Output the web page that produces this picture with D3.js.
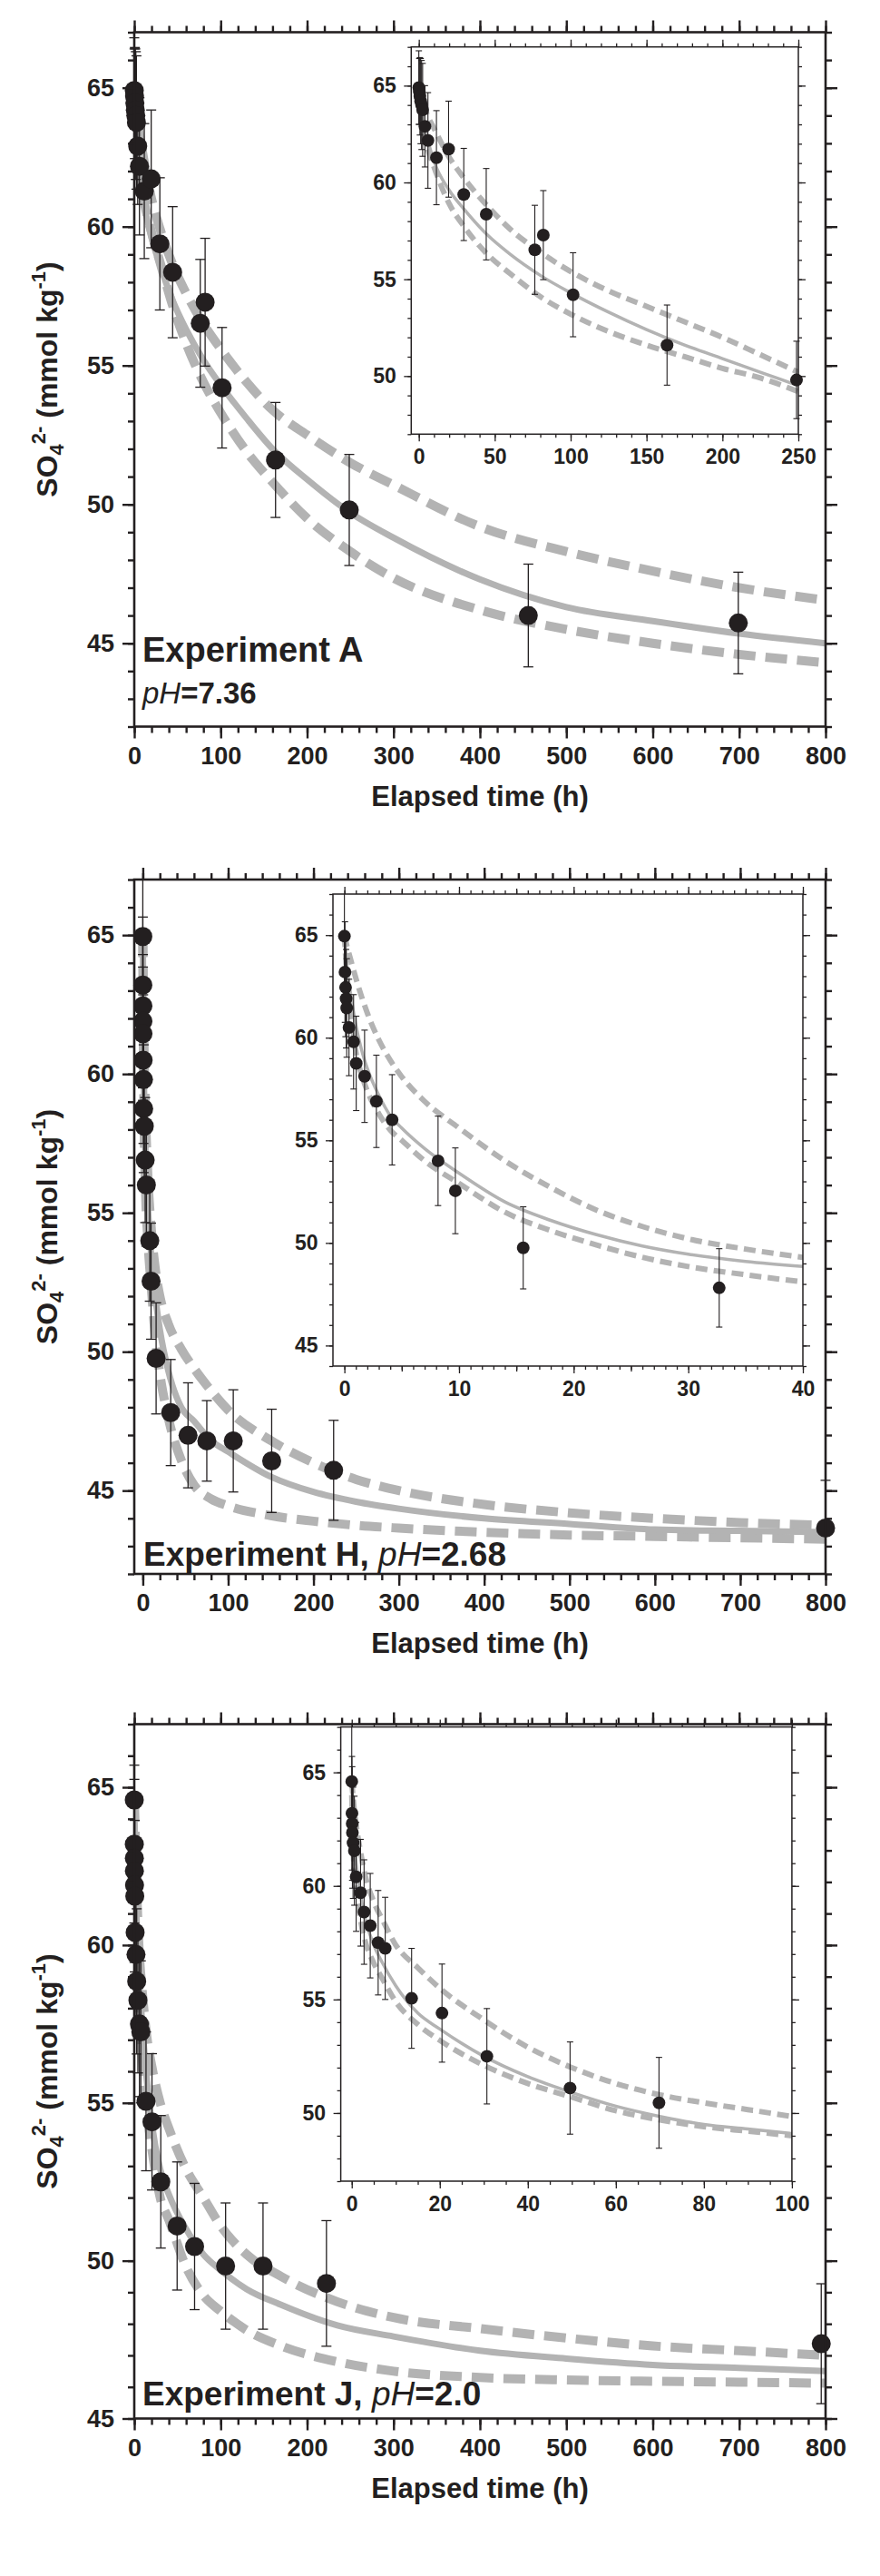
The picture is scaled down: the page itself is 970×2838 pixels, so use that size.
<!DOCTYPE html>
<html><head><meta charset="utf-8">
<script src="https://cdn.jsdelivr.net/npm/d3@7"></script>
<style>
body{margin:0;background:#fff;}
svg{display:block;}
text{font-family:"Liberation Sans",Arial,Helvetica,sans-serif;fill:#231f20;}
</style></head><body>
<svg id="c" width="970" height="2838"></svg>
<script>
// ---------------- DATA ----------------
// Experiment A (pH 7.36)
const A_time = [0, 0.3, 0.7, 1.2, 1.8, 2.5, 4, 6, 11.6, 19.6, 29.6, 44.4, 76.4, 82, 101.6, 163.5, 248.8, 456, 699];
const A_so4  = [64.9, 64.7, 64.45, 64.2, 64.0, 63.75, 62.9, 62.17, 61.28, 61.72, 59.38, 58.36, 56.52, 57.28, 54.2, 51.6, 49.8, 46.0, 45.73];
const A_err  = [1.9, 1.7, 2.0, 2.2, 2.3, 2.4, 2.1, 2.47, 2.43, 2.48, 2.38, 2.36, 2.3, 2.3, 2.17, 2.07, 2.0, 1.85, 1.83];
const A_fitT   = [0, 5, 10, 20, 30, 45, 60, 80, 100, 130, 160, 200, 250, 300, 400, 500, 600, 700, 800];
const A_fitMid = [64.8, 62.5, 61.1, 59.6, 58.6, 57.3, 56.3, 55.2, 54.3, 53.1, 52.0, 50.9, 49.7, 48.8, 47.3, 46.3, 45.8, 45.35, 45.0];
const A_fitHi  = [65.0, 63.6, 62.6, 61.0, 59.9, 58.6, 57.6, 56.5, 55.6, 54.4, 53.4, 52.5, 51.5, 50.7, 49.2, 48.3, 47.6, 47.0, 46.55];
const A_fitLo  = [64.6, 62.5, 61.2, 59.8, 58.7, 57.1, 55.8, 54.4, 53.3, 51.9, 50.8, 49.5, 48.3, 47.35, 46.2, 45.5, 45.0, 44.6, 44.3];
const A_insT   = [0, 2, 5, 10, 20, 30, 45, 60, 80, 100, 125, 150, 175, 200, 225, 250];
const A_insMid = [64.8, 63.8, 62.5, 61.1, 59.6, 58.6, 57.3, 56.3, 55.2, 54.3, 53.3, 52.4, 51.6, 50.9, 50.2, 49.5];
const A_insHi  = [65.0, 64.4, 63.6, 62.8, 61.3, 60.2, 58.8, 57.6, 56.4, 55.4, 54.4, 53.6, 52.8, 52.0, 51.1, 50.2];
const A_insLo  = [64.5, 63.2, 62.0, 60.8, 58.9, 57.7, 56.3, 55.3, 54.1, 53.2, 52.3, 51.6, 51.0, 50.4, 49.9, 49.2];

// Experiment H (pH 2.68)
const H_time = [0, 0.05, 0.1, 0.15, 0.2, 0.4, 0.8, 1.03, 1.76, 2.79, 4.16, 8.17, 9.68, 15.6, 32.7, 53, 75, 106, 151, 223.6, 800];
const H_so4  = [64.95, 63.2, 62.45, 61.9, 61.45, 60.5, 59.8, 58.75, 58.12, 56.9, 56.0, 54.0, 52.54, 49.76, 47.81, 46.99, 46.79, 46.79, 46.07, 45.73, 43.65];
const H_err  = [2.5, 2.45, 2.4, 2.4, 2.4, 2.35, 2.3, 2.3, 2.25, 2.25, 2.2, 2.18, 2.09, 2.0, 1.91, 1.89, 1.45, 1.84, 1.86, 1.8, 1.72];
const H_fitT   = [0, 1, 3, 6, 10, 15, 20, 30, 45, 60, 80, 100, 150, 200, 250, 300, 400, 500, 600, 700, 800];
const H_fitMid = [65.0, 60.7, 57.3, 55.2, 53.4, 51.9, 50.8, 49.3, 48.0, 47.5, 46.8, 46.4, 45.5, 44.95, 44.6, 44.35, 44.0, 43.8, 43.6, 43.55, 43.5];
const H_fitHi  = [65.0, 62.0, 58.8, 56.3, 54.4, 52.9, 52.0, 51.0, 50.1, 49.4, 48.6, 47.9, 46.8, 46.0, 45.4, 45.0, 44.5, 44.2, 44.0, 43.85, 43.75];
const H_fitLo  = [65.0, 59.5, 56.0, 54.0, 52.3, 50.4, 49.2, 47.6, 46.1, 45.2, 44.7, 44.45, 44.1, 43.9, 43.75, 43.65, 43.5, 43.4, 43.35, 43.3, 43.25];
const H_insT   = [0, 0.25, 0.5, 1, 1.5, 2, 3, 4, 5, 7, 10, 14, 18, 22, 26, 30, 35, 40];
const H_insMid = [65.0, 63.2, 62.3, 60.6, 59.4, 58.5, 57.2, 56.2, 55.6, 54.6, 53.4, 52.0, 51.1, 50.4, 49.85, 49.45, 49.1, 48.85];
const H_insHi  = [65.0, 64.4, 63.9, 62.9, 62.0, 61.2, 59.9, 58.9, 58.1, 56.9, 55.6, 54.0, 52.7, 51.6, 50.8, 50.2, 49.7, 49.3];
const H_insLo  = [65.0, 62.8, 61.7, 59.3, 58.2, 57.4, 56.3, 55.5, 55.0, 54.0, 52.9, 51.5, 50.6, 49.9, 49.3, 48.85, 48.45, 48.1];

// Experiment J (pH 2.0)
const J_time = [0, 0.05, 0.1, 0.15, 0.3, 0.6, 1, 2, 2.8, 4.2, 6, 7.6, 13.6, 20.5, 30.7, 49.6, 69.8, 105.7, 149, 222.4, 795];
const J_so4  = [64.6, 63.2, 62.75, 62.35, 61.9, 61.55, 60.4, 59.7, 58.85, 58.25, 57.5, 57.25, 55.05, 54.4, 52.5, 51.1, 50.45, 49.83, 49.83, 49.28, 47.37];
const J_err  = [2.5, 2.5, 2.5, 2.45, 2.45, 2.4, 2.4, 2.35, 2.3, 2.3, 2.3, 2.25, 2.2, 2.16, 2.1, 2.03, 2.0, 2.0, 2.0, 1.99, 1.9];
const J_fitT   = [0, 2, 5, 10, 15, 20, 30, 40, 60, 80, 100, 130, 170, 235, 300, 400, 500, 600, 700, 800];
const J_fitMid = [64.6, 61.5, 59.4, 57.2, 55.6, 54.4, 52.9, 52.1, 51.0, 50.2, 49.7, 49.1, 48.6, 47.95, 47.6, 47.15, 46.9, 46.7, 46.6, 46.5];
const J_fitHi  = [64.6, 62.5, 60.2, 58.3, 57.0, 56.2, 55.0, 54.2, 52.9, 52.0, 51.1, 50.2, 49.5, 48.7, 48.2, 47.85, 47.55, 47.3, 47.15, 47.0];
const J_fitLo  = [64.6, 60.6, 58.3, 56.2, 54.6, 53.6, 52.0, 51.3, 49.8, 48.9, 48.4, 47.8, 47.3, 46.8, 46.5, 46.3, 46.22, 46.18, 46.15, 46.12];
const J_insT   = [0, 0.5, 1, 2, 3, 5, 7, 10, 15, 20, 30, 40, 50, 60, 70, 80, 90, 100];
const J_insMid = [64.5, 62.3, 61.0, 59.6, 58.6, 57.4, 56.6, 55.6, 54.4, 53.7, 52.5, 51.6, 50.9, 50.3, 49.85, 49.5, 49.3, 49.1];
const J_insHi  = [64.6, 63.5, 62.7, 61.5, 60.5, 59.3, 58.5, 57.4, 56.4, 55.5, 54.1, 52.9, 52.0, 51.3, 50.8, 50.45, 50.15, 49.85];
const J_insLo  = [64.0, 60.8, 59.9, 58.5, 57.6, 56.6, 55.9, 54.9, 53.9, 53.2, 52.1, 51.3, 50.7, 50.1, 49.7, 49.4, 49.2, 49.0];

// Tick labels
const mainXTicks = [0, 100, 200, 300, 400, 500, 600, 700, 800];
const mainYTicks = [45, 50, 55, 60, 65];
const insAXTicks = [0, 50, 100, 150, 200, 250];
const insHXTicks = [0, 10, 20, 30, 40];
const insJXTicks = [0, 20, 40, 60, 80, 100];
const insYTicksA = [50, 55, 60, 65];
const insYTicksH = [45, 50, 55, 60, 65];
const insYTicksJ = [50, 55, 60, 65];

// ---------------- DRAWING ----------------
const INK = "#231f20", GREY = "#b3b3b3";
const svg = d3.select("#c");
const defs = svg.append("defs");
let clipN = 0;

function addAxis(g, fn, scale, vals, len, tr, labels, st) {
  const a = fn(scale).tickValues(vals).tickSize(len).tickSizeOuter(0).tickPadding(st.pad);
  if (!labels) a.tickFormat("");
  const ax = g.append("g").attr("transform", tr).call(a);
  ax.select(".domain").remove();
  ax.attr("font-family", null).attr("font-size", null);
  ax.selectAll("line").attr("stroke", INK).attr("stroke-width", st.tw);
  ax.selectAll("text").attr("font-size", st.fs).attr("font-weight", "bold").attr("fill", INK);
}

function frameAxes(g, x, y, W, H, t) {
  const st = t.st;
  const xl = [[t.xMinor, st.minLen], [t.xMid || [], st.midLen || st.minLen]];
  const yl = [[t.yMinor, st.minLen]];
  xl.forEach(([v, l]) => {
    addAxis(g, d3.axisBottom, x, v, l, `translate(0,${H})`, false, st);
    addAxis(g, d3.axisTop, x, v, l, `translate(0,0)`, false, st);
  });
  yl.forEach(([v, l]) => {
    addAxis(g, d3.axisLeft, y, v, l, `translate(0,0)`, false, st);
    addAxis(g, d3.axisRight, y, v, l, `translate(${W},0)`, false, st);
  });
  addAxis(g, d3.axisBottom, x, t.xMajor, st.majLen, `translate(0,${H})`, true, st);
  addAxis(g, d3.axisTop, x, t.xMajor, st.majLen, `translate(0,0)`, false, st);
  addAxis(g, d3.axisLeft, y, t.yMajor, st.majLen, `translate(0,0)`, true, st);
  addAxis(g, d3.axisRight, y, t.yMajor, st.majLen, `translate(${W},0)`, false, st);
  g.append("rect").attr("width", W).attr("height", H).attr("fill", "none")
    .attr("stroke", INK).attr("stroke-width", st.fw);
}

function drawCurves(g, x, y, T, mid, hi, lo, s, clipId) {
  const cg = g.append("g").attr("clip-path", `url(#${clipId})`);
  const mk = vals => d3.line().x((d, i) => x(T[i])).y(d => y(d)).curve(d3.curveMonotoneX)(vals);
  [hi, lo].forEach(v => cg.append("path").attr("d", mk(v)).attr("fill", "none")
    .attr("stroke", GREY).attr("stroke-width", s.dw).attr("stroke-dasharray", s.dash));
  cg.append("path").attr("d", mk(mid)).attr("fill", "none")
    .attr("stroke", GREY).attr("stroke-width", s.sw);
}

function drawPoints(g, x, y, T, V, E, s) {
  const [xmin, xmax] = x.domain(), [ymin, ymax] = y.domain();
  const pts = T.map((t, i) => ({t, v: V[i], e: E[i]})).filter(d => d.t >= xmin && d.t <= xmax + 1);
  const eg = g.append("g").attr("stroke", INK).attr("stroke-width", s.ew);
  pts.forEach(d => {
    const top = Math.min(d.v + d.e, ymax), bot = Math.max(d.v - d.e, ymin);
    const cx = x(d.t);
    eg.append("line").attr("x1", cx).attr("x2", cx).attr("y1", y(top)).attr("y2", y(bot));
    if (d.v + d.e <= ymax) eg.append("line").attr("x1", cx - s.cap).attr("x2", cx + s.cap).attr("y1", y(top)).attr("y2", y(top));
    if (d.v - d.e >= ymin) eg.append("line").attr("x1", cx - s.cap).attr("x2", cx + s.cap).attr("y1", y(bot)).attr("y2", y(bot));
  });
  g.append("g").selectAll("circle").data(pts).join("circle")
    .attr("cx", d => x(d.t)).attr("cy", d => y(d.v)).attr("r", s.r).attr("fill", INK);
}

function plot(box, xd, yd, series, ticks, s) {
  const g = svg.append("g").attr("transform", `translate(${box.l},${box.t})`);
  const x = d3.scaleLinear().domain(xd).range([0, box.w]);
  const y = d3.scaleLinear().domain(yd).range([box.h, 0]);
  const id = "clip" + (clipN++);
  defs.append("clipPath").attr("id", id).append("rect").attr("width", box.w).attr("height", box.h);
  if (s.bg) g.append("rect").attr("width", box.w).attr("height", box.h).attr("fill", "#fff");
  drawCurves(g, x, y, series.T, series.mid, series.hi, series.lo, s, id);
  drawPoints(g, x, y, series.time, series.so4, series.err, s);
  frameAxes(g, x, y, box.w, box.h, ticks);
  return g;
}

const mainStyle = {sw: 7, dw: 10, dash: "24,11", ew: 1.3, cap: 5.5, r: 10.5};
const insStyle  = {sw: 3.5, dw: 6, dash: "13,7", ew: 1.1, cap: 3.5, r: 7, bg: true};
const mainTickSt = {majLen: 13, minLen: 7, tw: 2.4, fw: 2.6, pad: 9, fs: 27};
const insTickSt  = {majLen: 8, minLen: 4, midLen: 6, tw: 1.3, fw: 1.5, pad: 8.5, fs: 23};

const mainTicks = yMinorDomain => ({
  xMajor: mainXTicks, xMinor: d3.range(0, 801, 20), yMajor: mainYTicks,
  yMinor: d3.range(yMinorDomain[0], yMinorDomain[1] + 1, 1), st: mainTickSt
});

function axisTitles(box) {
  const cx = box.l + box.w / 2;
  svg.append("text").attr("x", cx).attr("y", box.t + box.h + 87).attr("text-anchor", "middle")
    .attr("font-size", 31).attr("font-weight", "bold").text("Elapsed time (h)");
  const yt = svg.append("text").attr("transform", `translate(63,${box.t + box.h / 2}) rotate(-90)`)
    .attr("text-anchor", "middle").attr("font-size", 32).attr("font-weight", "bold");
  yt.append("tspan").text("SO");
  yt.append("tspan").attr("font-size", 22).attr("dy", 7).text("4");
  yt.append("tspan").attr("font-size", 22).attr("dy", -20).text("2-");
  yt.append("tspan").attr("dy", 13).text(" (mmol kg");
  yt.append("tspan").attr("font-size", 22).attr("dy", -13).text("-1");
  yt.append("tspan").attr("dy", 13).text(")");
}

function label(xp, yp, parts, fs) {
  const t = svg.append("text").attr("x", xp).attr("y", yp).attr("font-size", fs);
  parts.forEach(p => t.append("tspan").attr("font-weight", p[1] ? "normal" : "bold")
    .attr("font-style", p[1] ? "italic" : "normal").text(p[0]));
}

// Panel A
const boxA = {l: 148, t: 35.5, w: 762, h: 765};
plot(boxA, [0, 800], [42, 67],
  {T: A_fitT, mid: A_fitMid, hi: A_fitHi, lo: A_fitLo, time: A_time, so4: A_so4, err: A_err},
  mainTicks([42, 67]), mainStyle);
plot({l: 453.3, t: 51.7, w: 426.7, h: 426.6}, [-5, 250], [47, 67],
  {T: A_insT, mid: A_insMid, hi: A_insHi, lo: A_insLo, time: A_time, so4: A_so4, err: A_err},
  {xMajor: insAXTicks, xMinor: d3.range(0, 251, 10), yMajor: insYTicksA, yMinor: d3.range(47, 68, 1), st: insTickSt},
  insStyle);
axisTitles(boxA);
label(157, 729, [["Experiment A", false]], 38);
label(157, 775, [["pH", true], ["=7.36", false]], 33);

// Panel H
const boxH = {l: 148, t: 969, w: 762, h: 765};
plot(boxH, [-10, 800], [42, 67],
  {T: H_fitT, mid: H_fitMid, hi: H_fitHi, lo: H_fitLo, time: H_time, so4: H_so4, err: H_err},
  mainTicks([42, 67]), mainStyle);
plot({l: 367, t: 985, w: 518, h: 520}, [-1, 40], [44, 67],
  {T: H_insT, mid: H_insMid, hi: H_insHi, lo: H_insLo, time: H_time, so4: H_so4, err: H_err},
  {xMajor: insHXTicks, xMinor: d3.range(0, 41, 1), xMid: d3.range(5, 40, 10), yMajor: insYTicksH, yMinor: d3.range(44, 68, 1), st: insTickSt},
  insStyle);
axisTitles(boxH);
label(158, 1725, [["Experiment H, ", false], ["pH", true], ["=2.68", false]], 37);

// Panel J
const boxJ = {l: 148, t: 1899.5, w: 762, h: 765};
plot(boxJ, [0, 800], [45, 67],
  {T: J_fitT, mid: J_fitMid, hi: J_fitHi, lo: J_fitLo, time: J_time, so4: J_so4, err: J_err},
  mainTicks([45, 67]), mainStyle);
plot({l: 375.6, t: 1902.6, w: 497.3, h: 500.4}, [-2.5, 100], [47, 67],
  {T: J_insT, mid: J_insMid, hi: J_insHi, lo: J_insLo, time: J_time, so4: J_so4, err: J_err},
  {xMajor: insJXTicks, xMinor: d3.range(0, 101, 5), yMajor: insYTicksJ, yMinor: d3.range(47, 68, 1), st: insTickSt},
  insStyle);
axisTitles(boxJ);
label(157, 2650, [["Experiment J, ", false], ["pH", true], ["=2.0", false]], 37);
</script>
</body></html>
